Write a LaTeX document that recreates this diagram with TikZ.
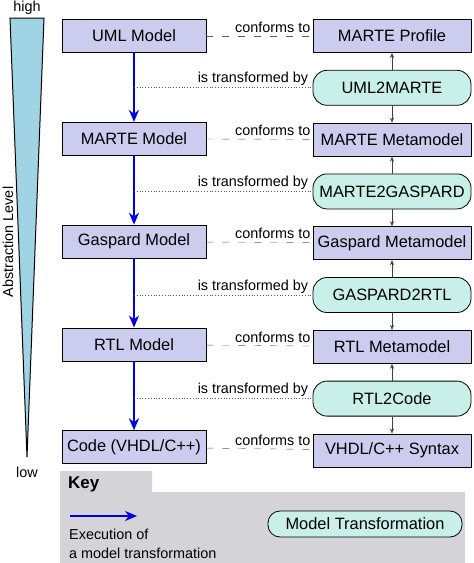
\documentclass[tikz,border=0pt]{standalone}
\usepackage{fontspec}
\setmainfont{Liberation Sans}
\usepackage{xcolor}
\usetikzlibrary{positioning,calc,arrows.meta}
\definecolor{modelfill}{RGB}{204,204,238}
\definecolor{transfill}{RGB}{200,240,232}
\definecolor{keygray}{RGB}{212,212,216}
\definecolor{levelblue}{RGB}{160,212,228}
\definecolor{execblue}{RGB}{0,0,230}

\begin{document}
\begin{tikzpicture}[x=1pt, y=1pt,
    model/.style={rectangle, draw, thick, fill=modelfill, minimum width=144pt, minimum height=33pt, font=\fontsize{16.4}{19}\selectfont},
    meta/.style={model, minimum width=158pt},
    trans/.style={rectangle, draw, thick, rounded corners=14pt, fill=transfill, minimum width=158pt, minimum height=35pt, font=\fontsize{16.4}{19}\selectfont},
    exec/.style={draw=execblue, line width=2.2pt, -{Stealth[length=12pt, width=10pt]}},
    conforms/.style={draw=black!65, dash pattern=on 7pt off 9pt},
    transby/.style={draw=black!65, line width=0.8pt, dotted},
    small/.style={font=\fontsize{14.4}{19}\selectfont, inner sep=1pt},
    link/.style={draw=black!75, -{Stealth[length=5pt, width=4pt]}}]

    \useasboundingbox (0,0) rectangle (474,-563);

    % abstraction level
    \filldraw[fill=levelblue, draw=black, line width=1pt] (10,-18) -- (44,-18) -- (27,-457) -- cycle;
    \node[small] (high) at (27,-8) {high};
    \node[small] (low) at (27,-472) {low};
    \node[small, rotate=90] (level) at (8,-242) {Abstraction Level};

    % models
    \node[model] (uml) at (134,-36) {UML Model};
    \node[model, below=69pt of uml] (marte) {MARTE Model};
    \node[model, below=69pt of marte] (gaspard) {Gaspard Model};
    \node[model, below=69pt of gaspard] (rtl) {RTL Model};
    \node[model, below=69pt of rtl] (code) {Code (VHDL/C++)};

    % metamodels and transformations
    \node[meta] (profile) at (392,-36) {MARTE Profile};
    \node[trans, below=17pt of profile] (uml2marte) {UML2MARTE};
    \node[meta, below=17pt of uml2marte] (martemm) {MARTE Metamodel};
    \node[trans, below=17pt of martemm] (marte2gaspard) {MARTE2GASPARD};
    \node[meta, below=17pt of marte2gaspard] (gaspardmm) {Gaspard Metamodel};
    \node[trans, below=17pt of gaspardmm] (gaspard2rtl) {GASPARD2RTL};
    \node[meta, below=17pt of gaspard2rtl] (rtlmm) {RTL Metamodel};
    \node[trans, below=17pt of rtlmm] (rtl2code) {RTL2Code};
    \node[meta, below=17pt of rtl2code] (syntax) {VHDL/C++ Syntax};

    \foreach \a/\b in {uml/marte, marte/gaspard, gaspard/rtl, rtl/code}
        \draw[exec] (\a) -- (\b);

    \foreach \a/\b in {uml/profile, marte/martemm, gaspard/gaspardmm, rtl/rtlmm, code/syntax}
        \draw[conforms] (\a) -- node[small, pos=1, anchor=base east, yshift=4pt, xshift=-1pt] {conforms to} (\b);

    \foreach \a/\t in {uml/uml2marte, marte/marte2gaspard, gaspard/gaspard2rtl, rtl/rtl2code}
        \draw[transby] (\a |- \t) -- node[small, pos=1, anchor=base east, yshift=5pt, xshift=-3pt] {is transformed by} (\t);

    \foreach \m/\t/\n in {profile/uml2marte/martemm, martemm/marte2gaspard/gaspardmm,
                          gaspardmm/gaspard2rtl/rtlmm, rtlmm/rtl2code/syntax} {
        \draw[link] (\t) -- (\m);
        \draw[link] (\t) -- (\n);
    }

    % key
    \fill[keygray] (60,-471) -- (152,-471) -- (152,-492) -- (465,-492) -- (465,-563) -- (60,-563) -- cycle;
    \node[anchor=west, inner sep=1pt, font=\bfseries\fontsize{17}{19}\selectfont] (key) at (67,-484) {Key};
    \coordinate (execfrom) at (70,-516);
    \coordinate (execto) at (137,-516);
    \draw[exec] (execfrom) -- (execto);
    \node[small, anchor=base west, align=left] (execlabel) at (68,-558) {Execution of\\a model transformation};
    \node[trans, minimum width=194pt, minimum height=26pt, rounded corners=12pt] (keytrans) at (365,-524) {Model Transformation};
\end{tikzpicture}
\end{document}
